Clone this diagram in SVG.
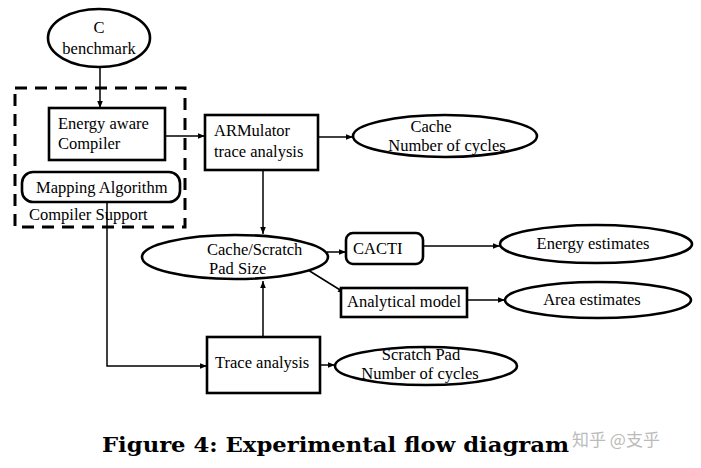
<svg xmlns="http://www.w3.org/2000/svg" width="701" height="468" viewBox="0 0 701 468">
<defs>
<style>
.n{fill:#fff;stroke:#000;stroke-width:2.6}
.t{font-family:"Liberation Serif","Times New Roman",serif;font-size:16.5px;fill:#000}
.c{stroke:#000;stroke-width:1.5;fill:none}
.cap{font-family:"DejaVu Serif","Liberation Serif",serif;font-weight:bold;font-size:21px;fill:#000}
</style>
<marker id="ah" viewBox="0 0 10 10" refX="10" refY="5" markerWidth="9" markerHeight="7" markerUnits="userSpaceOnUse" orient="auto">
<path d="M0,1 L10,5 L0,9 Z" fill="#000"/>
</marker>
</defs>
<rect width="701" height="468" fill="#fff"/>
<g id="compiler-support">
<rect x="15" y="88" width="170" height="139" fill="none" stroke="#000" stroke-width="3" stroke-dasharray="12 8"/>
<text class="t" x="29" y="220">Compiler Support</text>
</g>
<g id="connectors">
<path class="c" d="M100,67 V108" marker-end="url(#ah)"/>
<path class="c" d="M165,136 H205" marker-end="url(#ah)"/>
<path class="c" d="M318,137 H353" marker-end="url(#ah)"/>
<path class="c" d="M263,170 V234" marker-end="url(#ah)"/>
<path class="c" d="M107,202 V366 H207" marker-end="url(#ah)"/>
<path class="c" d="M263,337 V281" marker-end="url(#ah)"/>
<path class="c" d="M327,252 H346" marker-end="url(#ah)"/>
<path class="c" d="M423,246 H500" marker-end="url(#ah)"/>
<path class="c" d="M308,270 L345,293" marker-end="url(#ah)"/>
<path class="c" d="M467,300 H505" marker-end="url(#ah)"/>
<path class="c" d="M320,365 H335" marker-end="url(#ah)"/>
</g>
<g id="c-benchmark">
<ellipse class="n" cx="99" cy="38" rx="51" ry="29"/>
<text class="t" x="99" y="33" text-anchor="middle">C</text>
<text class="t" x="99" y="54" text-anchor="middle">benchmark</text>
</g>
<g id="energy-aware-compiler">
<rect class="n" x="49" y="108" width="116" height="52"/>
<text class="t" x="58" y="129">Energy aware</text>
<text class="t" x="58" y="149">Compiler</text>
</g>
<g id="mapping-algorithm">
<rect class="n" x="22" y="172" width="158" height="30" rx="11"/>
<text class="t" x="36" y="193">Mapping Algorithm</text>
</g>
<g id="armulator">
<rect class="n" x="205" y="115" width="113" height="55"/>
<text class="t" x="214" y="136">ARMulator</text>
<text class="t" x="214" y="157">trace analysis</text>
</g>
<g id="cache-cycles">
<ellipse class="n" cx="445" cy="136" rx="92" ry="21"/>
<text class="t" x="431" y="132" text-anchor="middle">Cache</text>
<text class="t" x="447" y="151" text-anchor="middle">Number of cycles</text>
</g>
<g id="cache-scratch-size">
<ellipse class="n" cx="235" cy="257" rx="93" ry="22"/>
<text class="t" x="207" y="255">Cache/Scratch</text>
<text class="t" x="209" y="274">Pad Size</text>
</g>
<g id="cacti">
<rect class="n" x="346" y="233" width="77" height="31" rx="7"/>
<text class="t" x="353" y="254">CACTI</text>
</g>
<g id="energy-estimates">
<ellipse class="n" cx="596" cy="244" rx="96" ry="19"/>
<text class="t" x="593" y="249" text-anchor="middle">Energy estimates</text>
</g>
<g id="analytical-model">
<rect class="n" x="341" y="288" width="126" height="29"/>
<text class="t" x="347" y="307">Analytical model</text>
</g>
<g id="area-estimates">
<ellipse class="n" cx="598" cy="300" rx="93" ry="18"/>
<text class="t" x="592" y="305" text-anchor="middle">Area estimates</text>
</g>
<g id="trace-analysis">
<rect class="n" x="207" y="337" width="113" height="56"/>
<text class="t" x="215" y="368">Trace analysis</text>
</g>
<g id="scratch-cycles">
<ellipse class="n" cx="426" cy="366" rx="91" ry="19"/>
<text class="t" x="421" y="360" text-anchor="middle">Scratch Pad</text>
<text class="t" x="420" y="379" text-anchor="middle">Number of cycles</text>
</g>
<text class="cap" x="102" y="452" textLength="467" lengthAdjust="spacingAndGlyphs">Figure 4: Experimental flow diagram</text>
<text x="572" y="446" font-family="'Noto Sans CJK SC',sans-serif" font-size="17" fill="#bbb">知乎 @支乎</text>
</svg>
